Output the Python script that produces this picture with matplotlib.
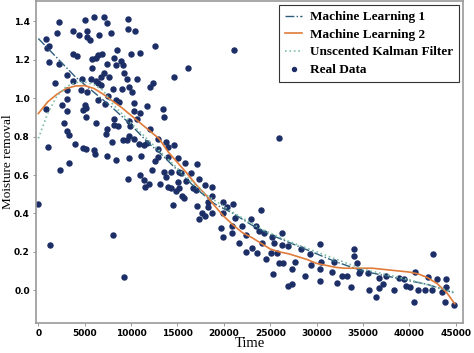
import matplotlib
matplotlib.use("Agg")
import matplotlib.pyplot as plt
import numpy as np

# real data points (time, moisture removal)
real_x = [2200, 5050, 6000, 7050, 7370, 9700, 9700, 10400, 2000, 3700, 4400, 5270, 6530, 7790,
          5270, 5580, 840, 1160, 950, 8530, 12530, 3700, 4210, 6420, 6840, 5790, 6210, 8210,
          8950, 10000, 10950, 1160, 2200, 7370, 8320, 9160, 5790, 7050, 9270, 3050, 5690, 6210,
          6740, 7580, 9580, 10630, 14640, 3690, 4740, 1790, 6420, 6740, 8000, 9050, 9790, 12000,
          12320, 3050, 4630, 5270, 7470, 8420, 8740, 10110, 10320, 11690, 13480, 3050, 5050, 5160,
          6420, 7160, 840, 2530, 16100, 21060,
          3050, 4840, 5160, 6210, 8210, 8630, 8210, 9790, 9900, 10630, 10950, 10320, 13580, 2740,
          3050, 3260, 7370, 7260, 7900, 9160, 9580, 9790, 10320, 10840, 11370, 11690, 12000, 12850,
          13790, 14010, 14640, 12950, 1050, 4000, 4840, 5160, 6000, 6100, 7370, 8420, 9790, 11060,
          12530, 12950, 14010, 15060, 3260, 2320, 12210, 13580, 13790, 14320, 9690, 10950, 11370,
          11480, 11900, 13160, 14010, 14320, 14850, 15060, 15170, 14530, 0, 1260, 8100, 9270,
          25900, 15790, 17160, 16430, 15380, 17270, 18000, 18740, 15900, 16640, 16950, 15170, 15690,
          15480, 18740, 18320, 19900, 20950, 20320, 17160, 18320, 24000, 17690, 18740, 18000, 19900,
          21160, 22950, 17270,
          19690, 19900, 20850, 20850, 22000, 22430, 23480, 23800, 24320, 25170, 21690, 23060, 22430,
          23590, 24110, 25380, 26220, 26960, 24530, 25060, 25700, 25900, 26430, 27380, 25270, 26960,
          27380, 28330, 27700, 28750, 29270, 30330, 30330, 30330, 26220,
          29380, 30430, 31690, 32220, 31900, 32750, 33270, 33700, 34000, 34000, 34330, 34650, 35590,
          35700, 36430, 36750, 37170, 37490, 38330, 38860, 39590, 40120, 40540, 40650, 40960, 41700,
          42430, 42010, 42540, 42960, 43490, 44010, 43800, 44010, 44860, 36750, 34540, 39380]
real_y = [1.395, 1.405, 1.42, 1.42, 1.39, 1.41, 1.36, 1.35, 1.34, 1.35, 1.33, 1.35, 1.33, 1.34,
          1.32, 1.30, 1.31, 1.27, 1.26, 1.25, 1.27, 1.23, 1.22, 1.225, 1.23, 1.205, 1.21, 1.21,
          1.195, 1.23, 1.235, 1.19, 1.18, 1.18, 1.17, 1.17, 1.155, 1.13, 1.13, 1.12, 1.10, 1.09,
          1.11, 1.11, 1.10, 1.10, 1.11, 1.09, 1.10, 1.08, 1.08, 1.07, 1.05, 1.05, 1.06, 1.06,
          1.08, 1.04, 1.04, 1.03, 1.01, 0.99, 0.98, 1.03, 0.975, 0.96, 0.945, 0.995, 0.965, 0.95,
          0.99, 0.97, 0.945, 0.965, 1.155, 1.25,
          0.935, 0.94, 0.90, 0.87, 0.89, 0.855, 0.86, 0.88, 0.855, 0.89, 0.92, 0.935, 0.90, 0.87,
          0.83, 0.81, 0.84, 0.815, 0.77, 0.78, 0.78, 0.805, 0.785, 0.76, 0.755, 0.765, 0.84, 0.785,
          0.77, 0.745, 0.755, 0.735, 0.745, 0.76, 0.74, 0.735, 0.73, 0.71, 0.70, 0.68, 0.69, 0.70,
          0.675, 0.695, 0.695, 0.69, 0.66, 0.625, 0.625, 0.615, 0.59, 0.615, 0.58, 0.60, 0.575,
          0.54, 0.555, 0.555, 0.54, 0.53, 0.515, 0.565, 0.615, 0.445, 0.45, 0.235, 0.29, 0.07,
          0.795, 0.66, 0.655, 0.61, 0.61, 0.58, 0.55, 0.54, 0.57, 0.53, 0.52, 0.53, 0.48,
          0.49, 0.49, 0.46, 0.46, 0.45, 0.435, 0.44, 0.435, 0.42, 0.40, 0.40, 0.385, 0.40,
          0.375, 0.37, 0.37,
          0.325, 0.28, 0.335, 0.30, 0.335, 0.29, 0.335, 0.31, 0.30, 0.28, 0.245, 0.22, 0.20,
          0.195, 0.245, 0.245, 0.235, 0.23, 0.165, 0.195, 0.195, 0.14, 0.14, 0.11, 0.085, 0.025,
          0.035, 0.215, 0.145, 0.075, 0.19, 0.24, 0.11, 0.05, 0.30,
          0.13, 0.145, 0.095, 0.04, 0.145, 0.075, 0.075, 0.015, 0.18, 0.215, 0.14, 0.10, 0.09,
          0.0, -0.035, 0.065, 0.035, 0.075, 0.0, 0.065, 0.025, 0.015, -0.06, 0.095, 0.0, 0.0,
          0.0, 0.07, 0.19, 0.06, -0.01, 0.06, -0.06, 0.015, -0.075, 0.01, 0.09, 0.06]

# model curves
ml1_x = [0, 2000, 4000, 6000, 8000, 10000, 12000, 13000, 15000, 17000, 19000, 21000, 23000,
         25000, 27000, 29000, 30000, 32000, 35000, 38000, 40000, 42000, 44000, 44900]
ml1_y = [1.31, 1.21, 1.11, 1.03, 0.95, 0.86, 0.76, 0.72, 0.625, 0.53, 0.45, 0.40, 0.34,
         0.29, 0.25, 0.21, 0.19, 0.15, 0.10, 0.07, 0.05, 0.03, 0.0, -0.015]

ml2_x = [0, 1000, 2000, 3000, 4000, 5000, 6000, 7000, 8000, 9000, 10000, 11000, 12000, 13000,
         14000, 15000, 16000, 17000, 18000, 19000, 20000, 21000, 22000, 23000, 24000, 25000,
         26000, 27000, 28000, 29000, 30000, 31000, 32000, 33000, 34000, 35000, 36000, 37000,
         38000, 39000, 40000, 41000, 42000, 43000, 44000, 44900]
ml2_y = [0.92, 0.98, 1.02, 1.05, 1.063, 1.065, 1.05, 1.02, 0.985, 0.95, 0.91, 0.87, 0.83, 0.79,
         0.72, 0.665, 0.61, 0.55, 0.50, 0.44, 0.385, 0.34, 0.30, 0.275, 0.245, 0.215,
         0.20, 0.19, 0.175, 0.16, 0.14, 0.13, 0.12, 0.115, 0.115, 0.115, 0.115, 0.11,
         0.105, 0.10, 0.095, 0.085, 0.065, 0.035, -0.01, -0.07]

ukf_x = [0, 1000, 2000, 3000, 4000, 5000, 6000, 7000, 8000, 10000, 12000, 15000, 18000, 21000,
         24000, 27000, 30000, 35000, 40000, 44900]
ukf_y = [0.79, 0.92, 1.01, 1.06, 1.08, 1.085, 1.07, 1.04, 0.97, 0.87, 0.775, 0.635, 0.50, 0.405,
         0.32, 0.255, 0.20, 0.11, 0.055, -0.01]

serif = ["Liberation Serif", "DejaVu Serif"]

fig = plt.figure(figsize=(4.74, 3.53), dpi=100)
ax = fig.add_axes([0.076, 0.085, 0.901, 0.912])

ax.plot(ml1_x, ml1_y, linestyle="-.", color="#2c5d7c", lw=1.0, label="Machine Learning 1", zorder=3)
ax.plot(ml2_x, ml2_y, linestyle="-", color="#e07b39", lw=1.2, label="Machine Learning 2", zorder=3)
ax.plot(ukf_x, ukf_y, linestyle=":", color="#7fbfa8", lw=1.2, label="Unscented Kalman Filter", zorder=3)
ax.scatter(real_x, real_y, s=13, color="#1c2e66", label="Real Data", zorder=2)

ax.set_xlim(-250, 45800)
ax.set_ylim(-0.17, 1.505)
ax.set_xticks(np.arange(0, 45001, 5000))
ax.set_yticks([0.0, 0.2, 0.4, 0.6, 0.8, 1.0, 1.2, 1.4])
ax.set_yticklabels(["0.0", "0.2", "0.4", "0.6", "0.8", "1.0", "1.2", "1.4"])
ax.tick_params(labelsize=6.5, length=2.5, width=0.6, color="#888888", pad=2)
for lab in ax.get_xticklabels() + ax.get_yticklabels():
    lab.set_fontweight("bold")
for sp in ax.spines.values():
    sp.set_color("#999999")
    sp.set_linewidth(1.2)

ax.set_xlabel("Time", family=serif, fontsize=10.5, labelpad=-1)
ax.set_ylabel("Moisture removal", family=serif, fontsize=9.5, labelpad=0)

leg = ax.legend(loc="upper right", prop={"family": serif, "size": 9.5, "weight": "bold"},
                fancybox=False, edgecolor="#333333", framealpha=1, handlelength=1.3,
                handletextpad=0.6, borderpad=0.45, labelspacing=0.4, borderaxespad=0.3,
                markerscale=0.8)
leg.get_frame().set_linewidth(0.8)

fig.savefig("out.png", dpi=100)
